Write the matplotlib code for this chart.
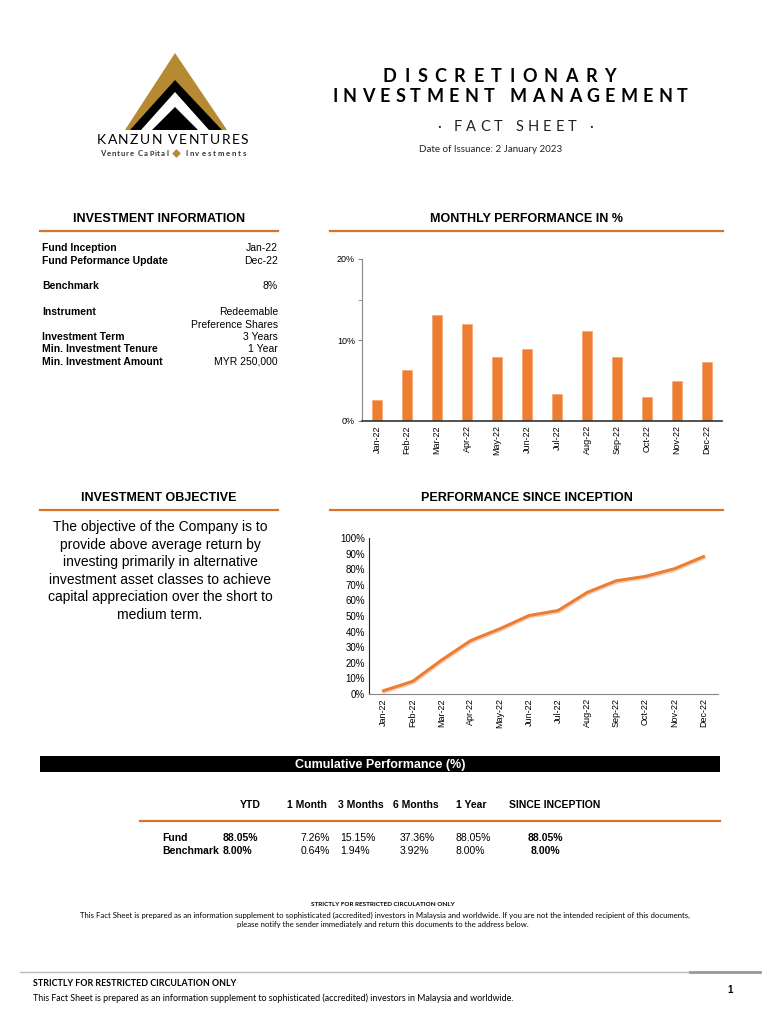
import numpy as np
import matplotlib.pyplot as plt
from matplotlib.patches import Polygon, Rectangle
from matplotlib.font_manager import FontProperties
import matplotlib.patheffects as pe

plt.rcParams['font.family'] = ['Liberation Sans', 'DejaVu Sans']

# ---- data ----
months = ['Jan-22', 'Feb-22', 'Mar-22', 'Apr-22', 'May-22', 'Jun-22',
          'Jul-22', 'Aug-22', 'Sep-22', 'Oct-22', 'Nov-22', 'Dec-22']
monthly_perf = [2.55, 6.3, 13.1, 12.0, 7.9, 8.85, 3.3, 11.1, 7.9, 3.0, 5.0, 7.26]
cumulative_perf = [2.1, 8.1, 21.8, 34.3, 41.8, 50.3, 53.5, 65.1, 72.6, 75.4, 80.3, 88.05]

info_labels = ['Fund Inception', 'Fund Peformance Update', 'Benchmark', 'Instrument', '',
               'Investment Term', 'Min. Investment Tenure', 'Min. Investment Amount']
info_values = ['Jan-22', 'Dec-22', '8%', 'Redeemable', 'Preference Shares',
               '3 Years', '1 Year', 'MYR 250,000']

objective = ("The objective of the Company is to\nprovide above average return by\n"
             "investing primarily in alternative\ninvestment asset classes to achieve\n"
             "capital appreciation over the short to\nmedium term.")

periods = ['YTD', '1 Month', '3 Months', '6 Months', '1 Year', 'SINCE INCEPTION']
fund_row = ['88.05%', '7.26%', '15.15%', '37.36%', '88.05%', '88.05%']
bench_row = ['8.00%', '0.64%', '1.94%', '3.92%', '8.00%', '8.00%']

orange = '#ED7D31'
rule = '#D8732A'
gold = '#B68A32'
geo = ['Lato', 'DejaVu Sans']

fig = plt.figure(figsize=(7.68, 10.24), dpi=100)
bg = fig.add_axes([0, 0, 1, 1])
bg.set_xlim(0, 768)
bg.set_ylim(1024, 0)
bg.axis('off')
renderer = fig.canvas.get_renderer()


def tracked(x0, x1, y, s, size, weight='normal', color='black', family=geo):
    # spread the letters of s evenly between x0 and x1 (letter spacing)
    fp = FontProperties(family=family, size=size, weight=weight)
    widths = []
    for ch in s:
        if ch == ' ':
            widths.append(size * 100 / 72 * 0.28)
        else:
            widths.append(renderer.get_text_width_height_descent(ch, fp, ismath=False)[0])
    gap = (x1 - x0 - sum(widths)) / max(len(s) - 1, 1)
    x = x0
    for ch, w in zip(s, widths):
        if ch != ' ':
            bg.text(x, y, ch, ha='left', va='center', fontproperties=fp, color=color)
        x += w + gap


# logo
bg.add_patch(Polygon([(175, 53), (125, 130), (227, 130)], closed=True, color=gold, lw=0))
bg.add_patch(Polygon([(175, 80), (130, 130), (222, 130)], closed=True, color='black', lw=0))
bg.add_patch(Polygon([(175, 92), (141, 130), (209, 130)], closed=True, color='white', lw=0))
bg.add_patch(Polygon([(175, 107), (152, 130), (198, 130)], closed=True, color='black', lw=0))
tracked(97, 248, 140, 'KANZUN VENTURES', 10)
tracked(100, 168, 153, 'Venture Capital', 5.6, weight='bold', color='#333333')
bg.scatter([176], [153], marker='D', s=12, color=gold)
tracked(185, 246, 153, 'Investments', 5.6, weight='bold', color='#333333')

# title block
tracked(383, 616, 76, 'DISCRETIONARY', 13, weight='bold')
tracked(332, 688, 97, 'INVESTMENT MANAGEMENT', 13, weight='bold')
tracked(437, 593, 127, '· FACT SHEET ·', 10.5, color='#222222')
bg.text(491, 150, 'Date of Issuance: 2 January 2023', ha='center', va='center', fontsize=7,
        family=geo, color='#222222')

# section headers
for x0, x1, y, label in [(40, 278, 219, 'INVESTMENT INFORMATION'),
                         (330, 723, 219, 'MONTHLY PERFORMANCE IN %'),
                         (40, 278, 498, 'INVESTMENT OBJECTIVE'),
                         (330, 723, 498, 'PERFORMANCE SINCE INCEPTION')]:
    bg.text((x0 + x1) / 2, y, label, ha='center', va='center', fontsize=9, fontweight='bold')
    bg.plot([x0, x1], [y + 12, y + 12], color=rule, lw=1.6)

# investment information
info_y = [248, 261, 286, 312, 325, 337, 349, 362]
for y, lab, val in zip(info_y, info_labels, info_values):
    bg.text(42, y, lab, ha='left', va='center', fontsize=7.5, fontweight='bold')
    bg.text(278, y, val, ha='right', va='center', fontsize=7.5)

# objective
bg.text(160, 520, objective, ha='center', va='top', fontsize=10, linespacing=1.32,
        multialignment='center')

# monthly performance bar chart
x = np.arange(len(months))
ax1 = fig.add_axes([362 / 768, 1 - 421 / 1024, 360 / 768, 162 / 1024])
ax1.bar(x, monthly_perf, width=0.36, color=orange, edgecolor='#F4A66E', lw=0.5)
ax1.set_xlim(-0.5, 11.5)
ax1.set_ylim(0, 20)
ax1.set_yticks([0, 10, 20])
ax1.set_yticklabels(['0%', '10%', '20%'], fontsize=6.5)
ax1.set_yticks([15], minor=True)
ax1.set_xticks(x)
ax1.set_xticklabels(months, rotation=90, fontsize=6.5)
ax1.tick_params(axis='x', length=0, pad=3)
ax1.tick_params(axis='y', length=3, color='#888888', pad=2)
ax1.tick_params(axis='y', which='minor', length=3, color='#888888')
for s in ['top', 'right']:
    ax1.spines[s].set_visible(False)
ax1.spines['left'].set_color('#888888')
ax1.spines['bottom'].set_color('#333333')
ax1.spines['bottom'].set_linewidth(1.2)

# cumulative line chart
ax2 = fig.add_axes([369 / 768, 1 - 694 / 1024, 349 / 768, 156 / 1024])
ax2.plot(x, cumulative_perf, color=orange, lw=2.2,
         path_effects=[pe.SimpleLineShadow(offset=(0.5, -1), shadow_color='#E8A07A', alpha=0.5),
                       pe.Normal()])
ax2.set_xlim(-0.5, 11.5)
ax2.set_ylim(0, 100)
ax2.set_yticks(range(0, 101, 10))
ax2.set_yticklabels([f'{v}%' for v in range(0, 101, 10)], fontsize=7)
ax2.set_xticks(x)
ax2.set_xticklabels(months, rotation=90, fontsize=6.5)
ax2.tick_params(axis='both', length=0, pad=3)
for s in ['top', 'right']:
    ax2.spines[s].set_visible(False)
ax2.spines['left'].set_color('#222222')
ax2.spines['bottom'].set_color('#888888')

# cumulative performance table
bg.add_patch(Rectangle((40, 756), 680, 16, color='black', lw=0))
bg.text(380, 765, 'Cumulative Performance (%)', ha='center', va='center', fontsize=9,
        fontweight='bold', color='white')
head_x = [250, 307, 361, 416, 471, 555]
for hx, p in zip(head_x, periods):
    bg.text(hx, 805, p, ha='center', va='center', fontsize=7.5, fontweight='bold')
bg.plot([140, 720], [821, 821], color=rule, lw=1.6)
bg.text(162, 838, 'Fund', ha='left', va='center', fontsize=7.5, fontweight='bold')
bg.text(162, 851, 'Benchmark', ha='left', va='center', fontsize=7.5, fontweight='bold')
val_x = [223, 330, 340, 400, 456, 545]
val_ha = ['left', 'right', 'left', 'left', 'left', 'center']
for i, (vx, ha) in enumerate(zip(val_x, val_ha)):
    w = 'bold' if i in (0, 5) else 'normal'
    bg.text(vx, 838, fund_row[i], ha=ha, va='center', fontsize=7.5, fontweight=w)
    bg.text(vx, 851, bench_row[i], ha=ha, va='center', fontsize=7.5, fontweight=w)

# disclaimers
bg.text(383, 905, 'STRICTLY FOR RESTRICTED CIRCULATION ONLY', ha='center', va='center',
        fontsize=4.6, fontweight='bold', family=geo)
bg.text(385, 915, 'This Fact Sheet is prepared as an information supplement to sophisticated '
        '(accredited) investors in Malaysia and worldwide. If you are not the intended '
        'recipient of this documents,', ha='center', va='center', fontsize=5.6, family=geo)
bg.text(383, 924, 'please notify the sender immediately and return this documents to the '
        'address below.', ha='center', va='center', fontsize=5.6, family=geo)

bg.plot([20, 760], [972, 972], color='#BBBBBB', lw=1)
bg.plot([690, 760], [972, 972], color='#999999', lw=2)
bg.text(33, 983, 'STRICTLY FOR RESTRICTED CIRCULATION ONLY', ha='left', va='center',
        fontsize=6.4, fontweight='bold', family=geo)
bg.text(33, 998, 'This Fact Sheet is prepared as an information supplement to sophisticated '
        '(accredited) investors in Malaysia and worldwide.', ha='left', va='center',
        fontsize=6.4, family=geo)
bg.text(730, 990, '1', ha='center', va='center', fontsize=7, fontweight='bold')

fig.savefig('out.png', dpi=100)
